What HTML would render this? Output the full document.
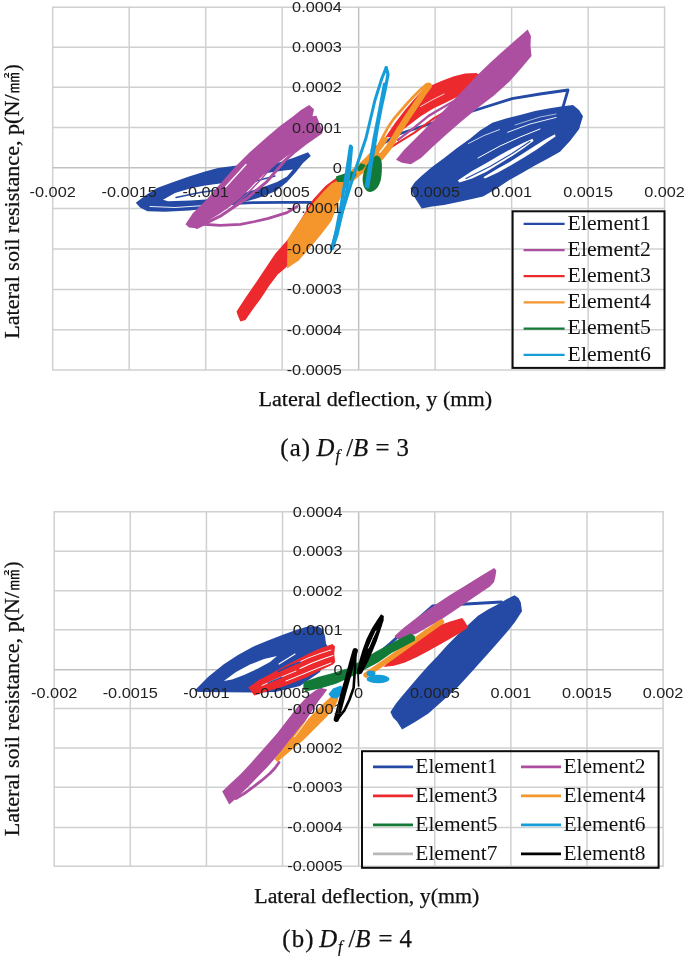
<!DOCTYPE html>
<html><head><meta charset="utf-8"><title>Lateral soil resistance vs lateral deflection</title>
<style>html,body{margin:0;padding:0;background:#fff}svg{display:block}</style></head>
<body>
<svg width="685" height="956" viewBox="0 0 685 956">
<rect width="685" height="956" fill="#fff"/>
<g id="chart-a">
<g stroke="#cfd0d0" stroke-width="1.5"><line x1="52.70" y1="6.50" x2="52.70" y2="370.60"/><line x1="129.19" y1="6.50" x2="129.19" y2="370.60"/><line x1="205.68" y1="6.50" x2="205.68" y2="370.60"/><line x1="282.16" y1="6.50" x2="282.16" y2="370.60"/><line x1="358.65" y1="6.50" x2="358.65" y2="370.60" stroke="#c0c1c1"/><line x1="435.14" y1="6.50" x2="435.14" y2="370.60"/><line x1="511.62" y1="6.50" x2="511.62" y2="370.60"/><line x1="588.11" y1="6.50" x2="588.11" y2="370.60"/><line x1="664.60" y1="6.50" x2="664.60" y2="370.60"/><line x1="52.70" y1="7.20" x2="664.60" y2="7.20"/><line x1="52.70" y1="47.20" x2="664.60" y2="47.20"/><line x1="52.70" y1="87.20" x2="664.60" y2="87.20"/><line x1="52.70" y1="127.60" x2="664.60" y2="127.60"/><line x1="52.70" y1="167.70" x2="664.60" y2="167.70" stroke="#c0c1c1"/><line x1="52.70" y1="208.50" x2="664.60" y2="208.50"/><line x1="52.70" y1="249.00" x2="664.60" y2="249.00"/><line x1="52.70" y1="289.40" x2="664.60" y2="289.40"/><line x1="52.70" y1="329.80" x2="664.60" y2="329.80"/><line x1="52.70" y1="369.90" x2="664.60" y2="369.90"/></g>
<path fill-rule="evenodd" fill="#254aa5" d="M135.8,202.8 L146.0,195.0 L157.0,188.0 L172.0,182.5 L189.0,176.5 L205.0,171.5 L218.0,168.0 L237.0,165.6 L258.0,164.5 L279.0,162.5 L293.0,158.0 L308.0,152.3 L310.8,156.0 L303.0,163.0 L296.0,172.0 L287.0,182.0 L276.0,191.0 L264.0,196.0 L253.0,199.5 L240.0,203.0 L221.0,206.5 L205.0,209.0 L189.0,210.5 L165.0,211.8 L147.5,211.3 L140.0,207.5 Z M163.0,199.8 L175.0,193.0 L190.0,188.5 L205.0,185.5 L222.0,183.3 L240.0,180.0 L255.0,176.0 L270.0,172.5 L284.0,170.5 L293.0,169.5 L287.0,176.5 L277.0,182.0 L262.0,187.5 L245.0,192.8 L226.0,197.2 L210.0,199.2 L190.0,200.6 L168.0,201.2 Z"/>
<polyline points="150.0,206.5 175.0,207.5 205.0,205.5 230.0,201.5" fill="none" stroke="#fff" stroke-width="0.9" stroke-linejoin="round" stroke-linecap="round" />
<polyline points="176.0,197.5 200.0,192.5 228.0,188.5 252.0,182.0 275.0,176.0" fill="none" stroke="#254aa5" stroke-width="1.3" stroke-linejoin="round" stroke-linecap="round" />
<polyline points="221.0,204.0 253.0,202.6 285.0,202.3 311.0,202.3" fill="none" stroke="#254aa5" stroke-width="2.8" stroke-linejoin="round" stroke-linecap="round" />
<polygon points="410.5,188.6 415.0,198.0 421.7,208.5 432.0,206.5 444.0,205.0 463.0,201.0 483.0,196.6 496.0,189.0 508.5,180.6 522.0,173.0 534.0,166.0 548.0,158.5 560.0,151.7 570.0,141.0 579.0,129.2 583.0,116.3 579.0,110.0 573.0,105.0 561.0,106.5 550.0,108.3 535.0,111.0 521.0,114.7 506.0,118.5 492.4,122.8 480.0,130.5 470.0,138.8 457.0,148.0 444.2,158.1 432.0,167.0 421.7,175.7 415.0,182.0" fill="#254aa5" />
<polygon points="457.7,180.6 472.0,171.0 486.0,163.2 500.0,155.0 513.0,148.0 524.0,142.5 532.5,138.8 533.5,141.0 524.0,148.0 513.0,155.5 500.0,163.5 486.0,172.0 472.0,178.5 459.5,182.6" fill="#fff" />
<polyline points="466.0,178.5 490.0,166.5 512.0,153.5 530.0,141.5" fill="none" stroke="#254aa5" stroke-width="1.1" stroke-linejoin="round" stroke-linecap="round" />
<polygon points="483.3,177.2 497.0,169.0 510.0,161.8 523.0,153.5 535.0,145.8 546.0,139.0 555.0,134.2 555.5,136.6 546.0,143.0 536.0,150.0 524.0,157.5 511.0,165.3 498.0,172.5 485.0,178.6" fill="#fff" />
<polyline points="478.0,158.0 500.0,146.0 520.0,137.0 540.0,129.0" fill="none" stroke="#fff" stroke-width="1.0" stroke-linejoin="round" stroke-linecap="round" />
<polyline points="468.5,143.5 484.0,135.5 499.5,129.6" fill="none" stroke="#dfe5f3" stroke-width="0.9" stroke-linejoin="round" stroke-linecap="round" />
<polyline points="507.6,132.3 530.0,124.0 556.2,117.4" fill="none" stroke="#e8ecf6" stroke-width="1.0" stroke-linejoin="round" stroke-linecap="round" />
<polyline points="515.0,125.0 540.0,117.0 556.0,114.0" fill="none" stroke="#c9d2ea" stroke-width="0.8" stroke-linejoin="round" stroke-linecap="round" />
<polyline points="372.0,150.0 399.0,134.0 440.0,120.5 476.0,110.0 512.0,98.7 540.0,94.0 568.0,90.0 563.0,107.0" fill="none" stroke="#254aa5" stroke-width="2.8" stroke-linejoin="round" stroke-linecap="round" />
<polygon points="236.5,311.5 246.0,297.0 256.7,281.5 266.0,267.5 275.4,253.4 288.3,239.0 300.0,221.0 312.8,199.7 325.6,185.7 336.0,178.0 340.0,182.0 330.0,200.0 300.0,250.0 286.0,267.5 277.7,274.5 269.0,286.0 261.4,297.8 252.0,310.5 245.5,320.0 240.4,321.5 238.0,316.0" fill="#ec2a2e" />
<polygon points="385.5,137.0 395.0,123.0 405.0,110.0 414.0,99.5 421.0,91.5 428.6,86.5 442.0,80.8 454.0,76.2 465.0,73.5 476.3,73.0 482.5,76.5 481.5,83.5 476.0,88.5 470.0,91.0 458.0,96.5 445.0,103.0 433.8,108.2 420.7,116.2 410.2,124.2 400.0,132.0 392.0,137.5" fill="#ec2a2e" />
<polyline points="420.5,106.5 432.0,100.0 444.0,94.0" fill="none" stroke="#fff" stroke-width="0.8" stroke-linejoin="round" stroke-linecap="round" />
<polyline points="390.0,148.0 397.0,143.3 414.1,132.8 433.8,118.4 445.0,111.8 460.0,103.0 476.0,92.0" fill="none" stroke="#ec2a2e" stroke-width="2.1" stroke-linejoin="round" stroke-linecap="round" />
<polygon points="185.5,224.2 193.0,213.0 206.3,200.1 220.0,184.0 234.7,167.3 250.0,152.0 267.6,136.6 280.0,126.0 293.9,115.8 301.0,110.0 309.2,104.9 314.0,109.2 312.5,116.2 316.5,115.8 320.9,127.1 322.8,130.5 320.0,134.4 311.0,140.5 302.6,146.5 289.5,154.6 279.0,161.5 268.5,170.0 254.5,183.5 247.5,191.0 239.5,199.0 230.0,206.5 220.0,213.5 207.0,221.5 195.3,228.2 189.0,227.5" fill="#ad4fa0" />
<polyline points="225.5,187.0 236.0,175.5 246.0,164.5" fill="none" stroke="#fff" stroke-width="1.3" stroke-linejoin="round" stroke-linecap="round" />
<polyline points="197.0,227.5 221.3,215.6 247.0,198.3 266.3,182.2 276.0,171.0 285.6,159.8 295.0,151.5 304.8,143.8 321.0,132.5" fill="none" stroke="#ad4fa0" stroke-width="3.0" stroke-linejoin="round" stroke-linecap="round" />
<polyline points="230.0,209.0 246.0,195.0 259.0,181.5 271.0,168.0 284.0,157.0" fill="none" stroke="#ad4fa0" stroke-width="1.6" stroke-linejoin="round" stroke-linecap="round" />
<polyline points="200.0,224.0 220.0,225.3 240.4,224.4 255.0,221.5 268.4,218.4 287.0,212.6 297.0,206.5" fill="none" stroke="#ad4fa0" stroke-width="2.8" stroke-linejoin="round" stroke-linecap="round" />
<polygon points="396.0,159.7 404.0,150.0 412.0,142.0 428.0,126.0 444.2,109.9 462.0,91.5 479.5,73.0 491.0,62.0 502.0,52.1 515.0,40.5 527.7,29.6 530.9,36.1 530.5,46.0 531.5,56.0 521.0,68.5 509.5,81.5 494.0,95.5 477.0,108.5 461.0,121.8 445.5,135.3 432.0,147.5 421.0,158.0 410.8,164.2 402.0,162.8" fill="#ad4fa0" />
<polyline points="398.0,140.0 400.3,138.1 414.1,127.6 428.6,115.9 445.0,106.2 460.0,97.5 474.0,90.0" fill="none" stroke="#ad4fa0" stroke-width="2.4" stroke-linejoin="round" stroke-linecap="round" />
<polygon points="287.5,239.4 295.0,228.0 303.4,216.0 315.1,200.9 323.0,192.0 331.5,183.4 339.6,179.5 350.0,171.0 359.3,163.5 367.0,156.0 373.0,149.0 378.0,152.0 383.0,155.0 378.0,161.0 372.0,166.5 362.0,174.0 352.0,182.0 344.0,190.7 338.5,202.0 331.5,220.7 323.0,232.0 315.1,241.8 307.0,251.0 298.8,260.4 292.0,265.0 287.0,268.6" fill="#f5962c" />
<polyline points="366.0,162.0 376.0,149.9 387.8,127.6 394.0,118.5 401.0,110.5 407.5,103.0 414.1,96.0 420.0,90.0 426.6,84.4" fill="none" stroke="#f5962c" stroke-width="2.7" stroke-linejoin="round" stroke-linecap="round" />
<polyline points="372.0,166.0 381.3,156.5 387.8,148.6 393.0,140.5 398.4,131.5 407.6,117.0 418.1,101.3 423.5,93.0 428.8,85.8" fill="none" stroke="#f5962c" stroke-width="6.3" stroke-linejoin="round" stroke-linecap="round" />
<polyline points="368.0,162.0 375.0,154.0 381.0,146.0 385.5,139.0" fill="none" stroke="#f5962c" stroke-width="4.5" stroke-linejoin="round" stroke-linecap="round" />
<polygon points="336.2,176.3 340.3,175.1 345.5,173.3 350.5,171.6 355.7,172.0 356.4,174.7 354.6,177.8 350.5,180.5 343.4,182.0 337.3,182.0 336.0,179.0" fill="#127a36" />
<polygon points="357.0,168.0 360.8,163.3 365.9,165.0 363.0,169.5 358.5,171.5" fill="#127a36" />
<path d="M376.100,155.600 C378.500,155.800 380.400,157.200 380.900,159.600 C381.800,162 382.100,165 381.900,167.600 C381.900,171.500 381.600,175.500 381,178.800 C380.400,181.800 379.600,184.300 378.300,186.200 C377.300,188 376,189.300 374.500,190.200 C373,191.200 371.500,191.900 370,191.900 C368.300,191.900 367,191.200 366,190 C364.800,188.800 364,187.500 363.600,186 C362.900,183.800 362.600,181.300 362.600,178.800 C362.700,176.300 363.200,173.800 364,171.700 C364.500,169.900 365.100,168.200 365.900,166.600 C366.800,164.900 367.800,163.400 369,162 C370.200,160.500 371.500,159.200 373,158.200 C374,157.200 375,156.200 376.100,155.600 Z" fill="#127a36"/>
<polyline points="331.5,249.0 338.0,226.0 346.0,200.0 356.0,168.0 366.0,138.0 375.0,100.0 382.0,78.0 386.2,67.6" fill="none" stroke="#149dd8" stroke-width="3.0" stroke-linejoin="round" stroke-linecap="round" />
<polyline points="386.2,67.6 388.0,74.5 384.5,93.0 381.3,107.1 377.5,127.0 374.7,144.5 371.0,165.0 367.8,187.0" fill="none" stroke="#149dd8" stroke-width="3.2" stroke-linejoin="round" stroke-linecap="round" />
<polyline points="384.3,84.0 379.5,110.0 374.0,138.0 369.6,165.0 366.2,186.0" fill="none" stroke="#149dd8" stroke-width="2.9" stroke-linejoin="round" stroke-linecap="round" />
<polyline points="332.0,248.5 336.0,232.0 341.0,206.0 346.0,176.0 350.5,146.0" fill="none" stroke="#149dd8" stroke-width="3.2" stroke-linejoin="round" stroke-linecap="round" />
<polyline points="351.6,147.0 349.8,168.0 346.8,190.0 342.3,212.0 337.3,234.0 332.5,248.5" fill="none" stroke="#149dd8" stroke-width="3.0" stroke-linejoin="round" stroke-linecap="round" />
<g font-family="'Liberation Sans', sans-serif" font-size="15.4" fill="#222"><text x="292.1" y="12.1" textLength="49.8" lengthAdjust="spacingAndGlyphs">0.0004</text><text x="292.1" y="52.1" textLength="49.8" lengthAdjust="spacingAndGlyphs">0.0003</text><text x="292.1" y="92.1" textLength="49.8" lengthAdjust="spacingAndGlyphs">0.0002</text><text x="292.1" y="132.5" textLength="49.8" lengthAdjust="spacingAndGlyphs">0.0001</text><text x="332.8" y="172.6" textLength="9.1" lengthAdjust="spacingAndGlyphs">0</text><text x="286.7" y="213.4" textLength="55.2" lengthAdjust="spacingAndGlyphs">-0.0001</text><text x="286.7" y="253.9" textLength="55.2" lengthAdjust="spacingAndGlyphs">-0.0002</text><text x="286.7" y="294.3" textLength="55.2" lengthAdjust="spacingAndGlyphs">-0.0003</text><text x="286.7" y="334.7" textLength="55.2" lengthAdjust="spacingAndGlyphs">-0.0004</text><text x="286.7" y="374.8" textLength="55.2" lengthAdjust="spacingAndGlyphs">-0.0005</text><text x="29.6" y="196.9" textLength="46.2" lengthAdjust="spacingAndGlyphs">-0.002</text><text x="101.6" y="196.9" textLength="55.2" lengthAdjust="spacingAndGlyphs">-0.0015</text><text x="182.6" y="196.9" textLength="46.2" lengthAdjust="spacingAndGlyphs">-0.001</text><text x="254.6" y="196.9" textLength="55.2" lengthAdjust="spacingAndGlyphs">-0.0005</text><text x="354.1" y="196.9" textLength="9.1" lengthAdjust="spacingAndGlyphs">0</text><text x="410.2" y="196.9" textLength="49.8" lengthAdjust="spacingAndGlyphs">0.0005</text><text x="491.3" y="196.9" textLength="40.7" lengthAdjust="spacingAndGlyphs">0.001</text><text x="563.2" y="196.9" textLength="49.8" lengthAdjust="spacingAndGlyphs">0.0015</text><text x="644.2" y="196.9" textLength="40.7" lengthAdjust="spacingAndGlyphs">0.002</text></g>
<g font-family="'Liberation Serif', serif" font-size="20" fill="#111"><rect x="512.6" y="211.3" width="151.9" height="156.6" fill="none" stroke="#0c0c0c" stroke-width="2"/><line x1="523.6" y1="223.9" x2="564.6" y2="223.9" stroke="#254aa5" stroke-width="2.3"/><text x="567.6" y="229.7" textLength="83.4" lengthAdjust="spacingAndGlyphs">Element1</text><line x1="523.6" y1="250.1" x2="564.6" y2="250.1" stroke="#ad4fa0" stroke-width="2.3"/><text x="567.6" y="255.9" textLength="83.4" lengthAdjust="spacingAndGlyphs">Element2</text><line x1="523.6" y1="276.2" x2="564.6" y2="276.2" stroke="#ec2a2e" stroke-width="2.3"/><text x="567.6" y="282.0" textLength="83.4" lengthAdjust="spacingAndGlyphs">Element3</text><line x1="523.6" y1="302.4" x2="564.6" y2="302.4" stroke="#f5962c" stroke-width="2.3"/><text x="567.6" y="308.2" textLength="83.4" lengthAdjust="spacingAndGlyphs">Element4</text><line x1="523.6" y1="328.6" x2="564.6" y2="328.6" stroke="#127a36" stroke-width="2.3"/><text x="567.6" y="334.4" textLength="83.4" lengthAdjust="spacingAndGlyphs">Element5</text><line x1="523.6" y1="354.8" x2="564.6" y2="354.8" stroke="#149dd8" stroke-width="2.3"/><text x="567.6" y="360.6" textLength="83.4" lengthAdjust="spacingAndGlyphs">Element6</text></g>
</g>
<g id="chart-b">
<g stroke="#cfd0d0" stroke-width="1.5"><line x1="54.20" y1="511.00" x2="54.20" y2="866.90"/><line x1="130.31" y1="511.00" x2="130.31" y2="866.90"/><line x1="206.43" y1="511.00" x2="206.43" y2="866.90"/><line x1="282.54" y1="511.00" x2="282.54" y2="866.90"/><line x1="358.65" y1="511.00" x2="358.65" y2="866.90" stroke="#c0c1c1"/><line x1="434.76" y1="511.00" x2="434.76" y2="866.90"/><line x1="510.87" y1="511.00" x2="510.87" y2="866.90"/><line x1="586.99" y1="511.00" x2="586.99" y2="866.90"/><line x1="663.10" y1="511.00" x2="663.10" y2="866.90"/><line x1="54.20" y1="511.70" x2="663.10" y2="511.70"/><line x1="54.20" y1="551.20" x2="663.10" y2="551.20"/><line x1="54.20" y1="590.80" x2="663.10" y2="590.80"/><line x1="54.20" y1="629.80" x2="663.10" y2="629.80"/><line x1="54.20" y1="669.80" x2="663.10" y2="669.80" stroke="#c0c1c1"/><line x1="54.20" y1="708.60" x2="663.10" y2="708.60"/><line x1="54.20" y1="748.00" x2="663.10" y2="748.00"/><line x1="54.20" y1="787.20" x2="663.10" y2="787.20"/><line x1="54.20" y1="827.40" x2="663.10" y2="827.40"/><line x1="54.20" y1="866.20" x2="663.10" y2="866.20"/></g>
<polygon points="194.6,690.5 208.0,677.0 223.8,664.2 238.0,655.0 253.0,646.7 268.0,640.5 282.2,635.0 296.0,630.0 308.5,626.3 318.0,626.5 323.0,629.2 325.0,636.0 326.0,643.8 330.0,650.0 320.0,672.0 300.0,686.0 275.0,692.0 253.0,692.4 225.0,692.2 205.0,692.0 198.0,692.0" fill="#254aa5" />
<polygon points="223.8,681.0 236.0,672.0 250.0,664.5 264.0,659.0 277.0,656.0 270.0,662.0 258.0,668.5 244.0,675.0 232.0,679.5" fill="#fff" />
<polyline points="279.0,664.0 287.0,659.0 295.0,654.0" fill="none" stroke="#fff" stroke-width="1.1" stroke-linejoin="round" stroke-linecap="round" />
<polygon points="248.4,687.4 258.0,680.5 267.1,675.7 281.0,668.0 295.1,660.6 306.0,655.0 316.1,650.0 324.0,647.0 332.5,644.0 335.0,646.5 334.2,654.0 335.2,662.0 333.0,664.5 320.0,670.5 306.8,677.2 295.0,682.0 283.4,686.5 271.0,690.3 260.1,693.5 254.2,695.6 252.0,692.5" fill="#ec2a2e" />
<polyline points="300.0,668.5 312.0,663.0 324.0,658.5 333.0,655.5" fill="none" stroke="#fff" stroke-width="1.1" stroke-linejoin="round" stroke-linecap="round" />
<polyline points="294.0,664.5 308.0,658.0 320.0,653.5 331.0,650.0" fill="none" stroke="#fff" stroke-width="0.9" stroke-linejoin="round" stroke-linecap="round" />
<polyline points="286.0,681.0 302.0,674.5 318.0,668.0 331.0,663.0" fill="none" stroke="#fff" stroke-width="1.0" stroke-linejoin="round" stroke-linecap="round" />
<polyline points="262.0,685.5 280.0,677.5 296.0,671.0" fill="none" stroke="#fff" stroke-width="0.9" stroke-linejoin="round" stroke-linecap="round" />
<polyline points="278.0,671.5 290.0,666.0 300.0,662.0" fill="none" stroke="#254aa5" stroke-width="1.6" stroke-linejoin="round" stroke-linecap="round" />
<polyline points="268.0,683.0 282.0,677.0" fill="none" stroke="#254aa5" stroke-width="1.2" stroke-linejoin="round" stroke-linecap="round" />
<polygon points="390.4,712.0 396.0,703.5 402.1,696.0 411.0,685.5 419.6,675.5 428.0,666.0 437.2,656.6 447.0,645.5 457.6,634.7 468.0,625.0 478.0,615.7 488.0,609.5 498.5,604.0 507.0,599.0 514.5,595.3 518.5,598.0 520.8,602.6 522.0,611.3 515.0,622.0 507.2,631.8 497.0,643.5 486.8,655.1 472.0,671.5 457.6,687.2 443.0,700.5 428.4,713.5 415.0,722.0 402.1,729.6 397.0,721.5 393.0,717.5" fill="#254aa5" />
<polyline points="368.0,662.0 390.4,643.4 412.0,624.0 432.8,605.8 466.0,604.0 501.4,602.0" fill="none" stroke="#254aa5" stroke-width="2.8" stroke-linejoin="round" stroke-linecap="round" />
<polygon points="383.5,667.0 392.0,658.5 408.0,646.8 424.0,635.3 440.1,625.0 451.0,621.3 462.0,617.9 464.5,621.0 468.3,627.6 460.0,633.0 451.8,637.8 440.0,644.5 428.4,650.9 417.0,657.0 405.0,662.6 394.0,665.8" fill="#ec2a2e" />
<polygon points="394.5,636.1 404.0,627.5 413.8,620.1 424.0,612.5 434.2,605.5 450.0,595.0 466.4,585.0 480.0,576.5 494.1,568.1 496.3,570.4 495.5,576.0 494.1,582.1 489.7,586.8 481.0,592.5 472.2,598.4 457.6,608.6 440.1,620.3 428.0,627.0 416.7,633.4 407.0,637.0 398.0,639.5" fill="#ad4fa0" />
<polygon points="222.2,791.4 231.0,783.0 240.7,774.0 251.0,763.0 261.1,751.5 269.5,742.0 277.4,733.1 282.0,727.0 286.6,720.9 292.0,714.0 297.9,706.6 304.0,700.0 310.1,694.3 315.0,690.8 320.4,687.8 327.3,689.5 322.5,696.0 318.3,701.2 311.3,712.0 305.2,721.2 298.2,730.5 292.8,737.7 284.0,748.5 274.7,758.8 266.5,768.0 258.4,776.3 248.0,787.0 237.4,797.3 229.2,804.5 226.0,798.5" fill="#ad4fa0" />
<polyline points="236.0,798.5 245.0,793.0 253.7,786.6 262.0,780.2 270.1,773.3 275.0,768.0 279.0,762.5" fill="none" stroke="#ad4fa0" stroke-width="2.8" stroke-linejoin="round" stroke-linecap="round" />
<polygon points="274.6,759.3 281.5,750.5 288.7,741.3 294.5,734.0 299.9,727.0 306.0,720.5 312.2,714.7 318.5,708.5 324.4,702.5 330.6,697.0 335.0,693.5 338.4,697.5 337.7,700.8 334.7,706.8 330.8,712.0 326.5,717.0 321.5,722.0 316.3,727.2 310.0,733.5 304.0,739.5 298.0,744.8 291.8,749.8 284.5,756.0 277.4,762.0" fill="#f5962c" />
<polyline points="294.5,737.0 300.5,729.0 307.0,720.0 313.0,712.5" fill="none" stroke="#fff" stroke-width="0.9" stroke-linejoin="round" stroke-linecap="round" />
<polyline points="366.0,675.0 375.8,668.2 392.0,657.0 408.0,645.5 424.0,634.0 441.5,621.7" fill="none" stroke="#f5962c" stroke-width="5.3" stroke-linejoin="round" stroke-linecap="round" />
<polygon points="303.5,682.0 318.0,677.0 333.0,673.0 348.0,668.3 362.0,660.0 376.0,651.5 390.0,644.0 402.0,637.5 410.5,633.7 414.8,636.0 415.0,640.5 404.0,646.5 392.0,652.8 378.0,662.5 364.0,670.0 350.0,677.5 336.0,683.8 320.0,688.5 306.0,691.3 303.3,689.0" fill="#127a36" />
<ellipse cx="378" cy="679" rx="11.5" ry="4.3" fill="#149dd8"/>
<ellipse cx="371" cy="673.5" rx="4.5" ry="3" fill="#149dd8"/>
<polygon points="328.5,694.0 333.0,688.5 341.0,685.5 344.0,690.0 340.0,696.0 336.8,698.5 331.5,698.0" fill="#149dd8" />
<polyline points="336.4,719.3 340.0,706.0 344.0,691.0 348.0,677.0 352.0,662.0 355.2,650.8" fill="none" stroke="#000" stroke-width="5.4" stroke-linejoin="round" stroke-linecap="round" />
<polyline points="355.5,651.0 355.0,668.0 353.6,687.9 349.5,699.5 344.4,710.4 339.5,716.5 336.2,720.0" fill="none" stroke="#000" stroke-width="2.6" stroke-linejoin="round" stroke-linecap="round" />
<polygon points="356.8,672.5 359.5,660.0 362.5,650.0 366.5,639.0 372.0,628.0 377.5,619.5 381.0,614.3 383.8,616.0 383.6,620.5 380.5,630.0 376.8,641.0 372.5,651.5 368.2,661.3 364.5,668.5 361.8,673.5 358.8,674.5" fill="#000" />
<polyline points="368.5,648.0 372.5,638.5 376.0,631.0" fill="none" stroke="#fff" stroke-width="1.0" stroke-linejoin="round" stroke-linecap="round" />
<polyline points="357.8,670.0 358.6,686.0" fill="none" stroke="#000" stroke-width="1.6" stroke-linejoin="round" stroke-linecap="round" />
<g font-family="'Liberation Sans', sans-serif" font-size="15.4" fill="#222"><text x="292.7" y="516.6" textLength="49.8" lengthAdjust="spacingAndGlyphs">0.0004</text><text x="292.7" y="556.1" textLength="49.8" lengthAdjust="spacingAndGlyphs">0.0003</text><text x="292.7" y="595.7" textLength="49.8" lengthAdjust="spacingAndGlyphs">0.0002</text><text x="292.7" y="634.7" textLength="49.8" lengthAdjust="spacingAndGlyphs">0.0001</text><text x="333.4" y="674.7" textLength="9.1" lengthAdjust="spacingAndGlyphs">0</text><text x="287.3" y="713.5" textLength="55.2" lengthAdjust="spacingAndGlyphs">-0.0001</text><text x="287.3" y="752.9" textLength="55.2" lengthAdjust="spacingAndGlyphs">-0.0002</text><text x="287.3" y="792.1" textLength="55.2" lengthAdjust="spacingAndGlyphs">-0.0003</text><text x="287.3" y="832.3" textLength="55.2" lengthAdjust="spacingAndGlyphs">-0.0004</text><text x="287.3" y="871.1" textLength="55.2" lengthAdjust="spacingAndGlyphs">-0.0005</text><text x="31.1" y="698.4" textLength="46.2" lengthAdjust="spacingAndGlyphs">-0.002</text><text x="102.7" y="698.4" textLength="55.2" lengthAdjust="spacingAndGlyphs">-0.0015</text><text x="183.3" y="698.4" textLength="46.2" lengthAdjust="spacingAndGlyphs">-0.001</text><text x="254.9" y="698.4" textLength="55.2" lengthAdjust="spacingAndGlyphs">-0.0005</text><text x="354.1" y="698.4" textLength="9.1" lengthAdjust="spacingAndGlyphs">0</text><text x="409.9" y="698.4" textLength="49.8" lengthAdjust="spacingAndGlyphs">0.0005</text><text x="490.5" y="698.4" textLength="40.7" lengthAdjust="spacingAndGlyphs">0.001</text><text x="562.1" y="698.4" textLength="49.8" lengthAdjust="spacingAndGlyphs">0.0015</text><text x="642.7" y="698.4" textLength="40.7" lengthAdjust="spacingAndGlyphs">0.002</text></g>
<g font-family="'Liberation Serif', serif" font-size="20" fill="#111"><rect x="362" y="751.2" width="296.6" height="116.6" fill="none" stroke="#0c0c0c" stroke-width="2"/><line x1="373.0" y1="766.9" x2="413.0" y2="766.9" stroke="#254aa5" stroke-width="2.6"/><text x="415.3" y="772.7" textLength="82.2" lengthAdjust="spacingAndGlyphs">Element1</text><line x1="521.0" y1="766.9" x2="561.0" y2="766.9" stroke="#ad4fa0" stroke-width="2.6"/><text x="563.4" y="772.7" textLength="82.2" lengthAdjust="spacingAndGlyphs">Element2</text><line x1="373.0" y1="795.9" x2="413.0" y2="795.9" stroke="#ec2a2e" stroke-width="2.6"/><text x="415.3" y="801.7" textLength="82.2" lengthAdjust="spacingAndGlyphs">Element3</text><line x1="521.0" y1="795.9" x2="561.0" y2="795.9" stroke="#f5962c" stroke-width="2.6"/><text x="563.4" y="801.7" textLength="82.2" lengthAdjust="spacingAndGlyphs">Element4</text><line x1="373.0" y1="824.9" x2="413.0" y2="824.9" stroke="#127a36" stroke-width="2.6"/><text x="415.3" y="830.7" textLength="82.2" lengthAdjust="spacingAndGlyphs">Element5</text><line x1="521.0" y1="824.9" x2="561.0" y2="824.9" stroke="#149dd8" stroke-width="2.6"/><text x="563.4" y="830.7" textLength="82.2" lengthAdjust="spacingAndGlyphs">Element6</text><line x1="373.0" y1="853.9" x2="413.0" y2="853.9" stroke="#b6b9b8" stroke-width="2.6"/><text x="415.3" y="859.7" textLength="82.2" lengthAdjust="spacingAndGlyphs">Element7</text><line x1="521.0" y1="853.9" x2="561.0" y2="853.9" stroke="#000" stroke-width="2.6"/><text x="563.4" y="859.7" textLength="82.2" lengthAdjust="spacingAndGlyphs">Element8</text></g>
</g>

<g font-family="'Liberation Serif', 'Noto Sans CJK KR', serif" fill="#111" stroke="#111" stroke-width="0.25">
<g transform="translate(18.9,338.8) rotate(-90)" font-size="20"><text x="0" y="0" textLength="244.4" lengthAdjust="spacingAndGlyphs">Lateral soil resistance, p(N/</text><text transform="translate(245.4,-0.3) scale(1.07,0.84)" font-family="'Noto Sans CJK KR','NanumGothic','Noto Sans CJK JP',sans-serif" font-weight="400" stroke="none">㎟</text><text x="267.9" y="0">)</text></g>
<g transform="translate(18.9,836.2) rotate(-90)" font-size="20"><text x="0" y="0" textLength="244.4" lengthAdjust="spacingAndGlyphs">Lateral soil resistance, p(N/</text><text transform="translate(245.4,-0.3) scale(1.07,0.84)" font-family="'Noto Sans CJK KR','NanumGothic','Noto Sans CJK JP',sans-serif" font-weight="400" stroke="none">㎟</text><text x="267.9" y="0">)</text></g>
<text x="258.4" y="406.4" font-size="20" textLength="233.8" lengthAdjust="spacingAndGlyphs">Lateral  deflection, y (mm)</text>
<text x="254.3" y="902.6" font-size="20" textLength="224.9" lengthAdjust="spacingAndGlyphs">Lateral  deflection, y(mm)</text>
<g font-size="24.8">
<text x="280.2" y="456.3" letter-spacing="1.2">(a)</text><text x="316.6" y="456.3" font-style="italic">D</text><text x="335.5" y="461.3" font-style="italic" font-size="16">f</text><text x="346.3" y="456.3">/</text><text x="353" y="456.3" font-style="italic">B</text><text x="375.6" y="456.3">=</text><text x="396.6" y="456.3">3</text>
<text x="282.2" y="947.4" letter-spacing="1.2">(b)</text><text x="319.2" y="947.4" font-style="italic">D</text><text x="338.1" y="952.4" font-style="italic" font-size="16">f</text><text x="348.5" y="947.4">/</text><text x="355.2" y="947.4" font-style="italic">B</text><text x="378.4" y="947.4">=</text><text x="399.6" y="947.4">4</text>
</g>
</g>

</svg>
</body></html>
